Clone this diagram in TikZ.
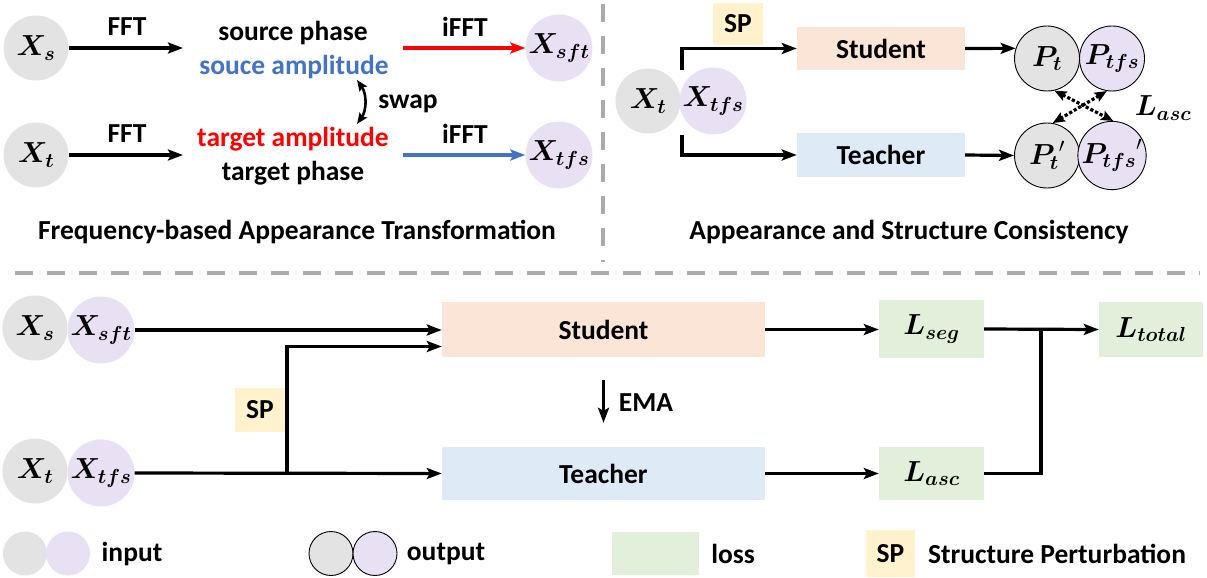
\RequirePackage{fix-cm}
\documentclass[tikz,border=0pt]{standalone}
\usepackage{amsmath,bm}
\usepackage{fontspec}
\setmainfont{Carlito}
\usetikzlibrary{arrows.meta}
\definecolor{cgray}{HTML}{E3E3E3}
\definecolor{cpurp}{HTML}{E9E0F3}
\definecolor{cpeach}{HTML}{FBE5D6}
\definecolor{cblue}{HTML}{DEEBF7}
\definecolor{cgreen}{HTML}{E2EFDA}
\definecolor{cyell}{HTML}{FFF2CC}
\definecolor{tblue}{HTML}{4472C4}
\definecolor{cdash}{HTML}{ABABAB}
\begin{document}
\begin{tikzpicture}[x=1pt,y=-1pt,
  every node/.style={font=\fontsize{27.5}{32}\selectfont\bfseries, inner sep=0pt},
  inpg/.style={circle, fill=cgray, minimum size=65pt, inner sep=0pt, font=\fontsize{29}{32}\selectfont},
  inpp/.style={inpg, fill=cpurp},
  outg/.style={inpg, draw=black, line width=0.9pt},
  outp/.style={inpp, draw=black, line width=0.9pt},
  box/.style={minimum width=#1, inner sep=0pt},
  mathlbl/.style={font=\fontsize{29}{32}\selectfont},
  arr/.style={line width=3.2pt, -{Stealth[length=15pt,width=11pt,inset=3pt]}},
  plain/.style={line width=3.2pt},
  dotarr/.style={line width=3.2pt, dotted, {Stealth[length=12pt,width=10pt,inset=2pt]}-{Stealth[length=12pt,width=10pt,inset=2pt]}},
  divider/.style={line width=4pt, cdash, dash pattern=on 18pt off 14pt}
]
\useasboundingbox (0,0) rectangle (1207,578);

% dividers
\draw[divider] (603,4) -- (603,262);
\draw[divider] (15,273) -- (1200,273);

% ---------- top left ----------
\node[inpg] (xs1) at (36,48) {$\bm{X_s}$};
\node[inpg] (xt1) at (36,155) {$\bm{X_t}$};
\node[inpp] (xsft1) at (559,48) {$\bm{X_{sft}}$};
\node[inpp] (xtfs1) at (559,155) {$\bm{X_{tfs}}$};
\node (sph) at (293,33) {source phase};
\node[text=tblue] (sam) at (294,67) {souce amplitude};
\node[text=red] (tam) at (293,139) {target amplitude};
\node (tph) at (293,173) {target phase};
\coordinate (f1e) at (183,48);
\coordinate (f2e) at (183,155);
\coordinate (i1s) at (403,48);
\coordinate (i2s) at (403,155);
\draw[arr] (xs1) -- (f1e);
\draw[arr] (xt1.east) -- (f2e);
\node (fft1) at (127,27) {FFT};
\node (fft2) at (127,134) {FFT};
\draw[arr, red] (i1s) -- (xsft1.west);
\draw[arr, tblue] (i2s) -- (xtfs1.west);
\node (ifft1) at (465,27) {iFFT};
\node (ifft2) at (465,134) {iFFT};
\coordinate (sw1) at (357,80);
\coordinate (sw2) at (357,124);
\draw[line width=2.6pt, {Stealth[length=11pt,width=9pt,inset=2pt]}-{Stealth[length=11pt,width=9pt,inset=2pt]}] (sw1) to[bend left=35] (sw2);
\node (swap) at (408,104) {swap};
\node (t1) at (297,232) {Frequency-based Appearance Transformation};

% ---------- top right ----------
\node[inpg] (xt3) at (648,101) {$\bm{X_t}$};
\node[inpp] (xtfs3) at (713,101) {$\bm{X_{tfs}}$};
\node[box=50pt, minimum height=42pt, fill=cyell] (sp1) at (738,24) {SP};
\node[box=168pt, minimum height=43pt, fill=cpeach] (stu1) at (881,48.5) {Student};
\node[box=168pt, minimum height=44pt, fill=cblue] (tea1) at (881,155) {Teacher};
\coordinate (b1) at (682,70);
\coordinate (b2) at (682,135);
\draw[arr] (b1) |- (stu1.west);
\draw[arr] (b2) |- (tea1.west);
\node[outg] (pt) at (1047,58.5) {$\bm{P_t}$};
\node[outp] (ptfs) at (1112,58.5) {$\bm{P_{tfs}}$};
\node[outg] (ptp) at (1047,155.5) {${\bm{P_t}}'$};
\node[outp] (ptfsp) at (1112,155.5) {${\bm{P_{tfs}}}'$};
\draw[arr] (stu1.east) -- (pt.162);
\draw[arr] (tea1.east) -- (ptp.west);
\draw[dotarr] (pt.-77) -- (ptfsp.88);
\draw[dotarr] (ptfs.-99) -- (ptp.80);
\node[mathlbl] (lasc1) at (1163,108) {$\bm{L_{asc}}$};
\node (t2) at (909,232) {Appearance and Structure Consistency};

% ---------- bottom ----------
\node[inpg] (xs2) at (35,328) {$\bm{X_s}$};
\node[inpp] (xsft2) at (101,330) {$\bm{X_{sft}}$};
\node[inpg] (xt2) at (35,471) {$\bm{X_t}$};
\node[inpp] (xtfs2) at (101,473) {$\bm{X_{tfs}}$};
\node[box=323pt, minimum height=55pt, fill=cpeach] (stu2) at (603.5,329.5) {Student};
\node[box=323pt, minimum height=53pt, fill=cblue] (tea2) at (603.5,473.5) {Teacher};
\node[box=105pt, minimum height=58pt, fill=cgreen, mathlbl] (lseg) at (931.5,329) {$\bm{L_{seg}}$};
\node[box=105pt, minimum height=53pt, fill=cgreen, mathlbl] (lasc2) at (931.5,473.5) {$\bm{L_{asc}}$};
\node[box=104pt, minimum height=55pt, fill=cgreen, mathlbl] (ltot) at (1151,329.5) {$\bm{L_{total}}$};
\node[box=50pt, minimum height=44pt, fill=cyell] (sp2) at (260,410) {SP};
\draw[arr] (xsft2.east) -- (xsft2.east -| stu2.west);
\draw[arr] (xtfs2.east) -- (tea2.west);
\coordinate (spj) at (287,473.5);
\draw[arr] (spj) |- ([yshift=-17pt]stu2.west);
\draw[arr] (stu2.east) -- (lseg.west |- stu2.east);
\draw[arr] (tea2.east) -- (lasc2.west);
\draw[arr] (lseg.east) -- (ltot.west);
\coordinate (jn) at (1041,329.5);
\draw[plain] (lasc2.east) -| (jn);
\draw[arr, line width=2.8pt] ([yshift=-23pt]stu2.south) -- ([yshift=24pt]tea2.north);
\node (ema) at (646,403) {EMA};

% ---------- legend ----------
\node[inpg, minimum size=44pt] (lg1) at (25,553.5) {};
\node[inpp, minimum size=44pt] (lg2) at (68,553.5) {};
\node (lgin) at (132,554) {input};
\node[outg, minimum size=44pt] (lg3) at (331,553.5) {};
\node[outp, minimum size=44pt] (lg4) at (375,553.5) {};
\node (lgout) at (446,554) {output};
\node[box=87pt, minimum height=43pt, fill=cgreen] (lg5) at (655.5,553.5) {};
\node (lgloss) at (733,554) {loss};
\node[box=49pt, minimum height=47pt, fill=cyell] (lg6) at (890.5,553.5) {SP};
\node (lgsp) at (1057,554) {Structure Perturbation};
\end{tikzpicture}
\end{document}
